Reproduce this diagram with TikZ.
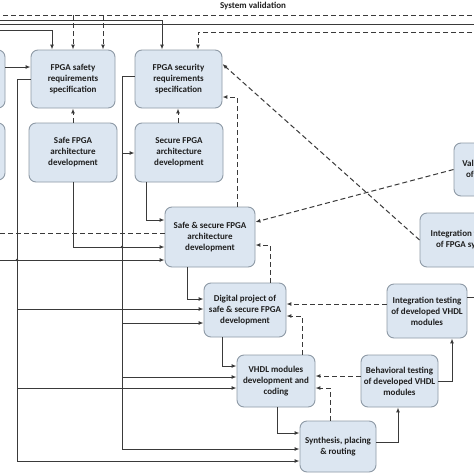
\documentclass[tikz,border=0pt]{standalone}
\usepackage{fontspec}
\setmainfont{Carlito}
\usetikzlibrary{arrows.meta}
\definecolor{boxfill}{HTML}{DCE6F1}
\definecolor{boxdraw}{HTML}{8E9AA6}
\definecolor{lncol}{HTML}{3A3A3A}
\definecolor{txt}{HTML}{1E1E1E}
\tikzset{
  box/.style={draw=boxdraw, fill=boxfill, line width=0.9pt, rounded corners=7pt,
    align=center, font=\fontsize{9}{11}\selectfont\bfseries, text=txt, inner sep=0pt},
  ln/.style={draw=lncol, line width=1pt},
  dln/.style={ln, dash pattern=on 5pt off 3pt},
  arr/.style={ln, -{Latex[length=5pt,width=4pt]}},
  darr/.style={dln, -{Latex[length=5pt,width=4pt]}},
  jdot/.style={fill=lncol, draw=none, circle, inner sep=0pt, minimum size=2.6pt},
  lbl/.style={font=\fontsize{9}{11}\selectfont\bfseries, text=txt, inner sep=0pt}
}
\begin{document}
\begin{tikzpicture}[x=1pt, y=-1pt]
\useasboundingbox (0,0) rectangle (474,474);
\clip (0,0) rectangle (474,474);
\fill[white] (0,0) rectangle (474,474);

% boxes
\node[box, minimum width=90pt, minimum height=58pt] (lbox1) at (-40,79) {};
\node[box, minimum width=90pt, minimum height=57pt] (lbox2) at (-40,151.5) {};
\node[box, minimum width=84pt, minimum height=58pt] (safreq) at (73,79) {FPGA safety\\requirements\\specification};
\node[box, minimum width=87pt, minimum height=58pt] (secreq) at (178.5,79) {FPGA security\\requirements\\specification};
\node[box, minimum width=88pt, minimum height=59pt] (safarch) at (73,152.5) {Safe FPGA\\architecture\\development};
\node[box, minimum width=88pt, minimum height=59pt] (secarch) at (179,152.5) {Secure FPGA\\architecture\\development};
\node[box, minimum width=90pt, minimum height=60pt] (ssarch) at (210,237) {Safe \& secure FPGA\\architecture\\development};
\node[box, minimum width=82pt, minimum height=54pt] (digital) at (245,310) {Digital project of\\safe \& secure FPGA\\development};
\node[box, minimum width=78pt, minimum height=52pt] (vhdl) at (276,381) {VHDL modules\\development and\\coding};
\node[box, minimum width=76pt, minimum height=51pt] (synth) at (338,446.5) {Synthesis, placing\\\& routing};
\node[box, minimum width=77pt, minimum height=52pt] (behav) at (399.5,381) {Behavioral testing\\of developed VHDL\\modules};
\node[box, minimum width=80pt, minimum height=54pt] (integ) at (427,311) {Integration testing\\of developed VHDL\\modules};
\node[box, minimum width=90pt, minimum height=54pt] (intsys) at (465,240) {Integration testing\\of FPGA system};
\node[box, minimum width=82pt, minimum height=53pt] (valid) at (495,169.5) {Validation testing\\of FPGA system};

% top bus lines
\node[lbl] (sysval) at (253,6) {System validation};
\coordinate (d15l) at (-5,15);
\coordinate (d15r) at (480,15);
\coordinate (s24l) at (-5,24);
\coordinate (s24r) at (480,24);
\coordinate (s20l) at (-5,20);
\coordinate (s30l) at (-5,30);
\coordinate (d32r) at (480,32);
\draw[dln] (d15l) -- (d15r);
\draw[ln] (s24l) -- (s24r);
\draw[arr] (s20l) -| (secreq.north -| 162,0);
\draw[arr] (s30l) -| (safreq.north -| 52,0);
\draw[darr] (d32r) -| (secreq.north -| 198,0);
\draw[darr] (73,15) -- (safreq.north -| 73,0);
\draw[darr] (103,15) -- (safreq.north -| 103,0);

% left inputs
\draw[arr] (lbox1.east |- 0,67) -- (safreq.west |- 0,67);
\coordinate (l260) at (-5,260);
\coordinate (l233) at (-5,233);
\draw[arr] (l260) -- (ssarch.west |- 0,260);
\draw[dln] (ssarch.west |- 0,233) -- (l233);

% x=17 bus
\draw[arr] (safreq.west) -- (17,79) -- (17,461) -- (synth.west |- 0,461);
\draw[arr] (17,309) -- (digital.west |- 0,309);
\draw[arr] (17,388) -- (vhdl.west |- 0,388);
\node[jdot] (j1) at (17,260) {};

% x=122 bus
\draw[arr] (secreq.west |- 0,76) -- (122,76) -- (122,449) -- (synth.west |- 0,449);
\draw[arr] (122,153) -- (secarch.west |- 0,153);
\draw[arr] (122,323) -- (digital.west |- 0,323);
\draw[arr] (122,377) -- (vhdl.west |- 0,377);
\node[jdot] (j2) at (122,247) {};

% architecture to safe & secure
\draw[arr] (safarch.south) |- (ssarch.west |- 0,247);
\draw[arr] (secarch.south -| 146,0) |- (ssarch.west |- 0,220);
\draw[darr] (safarch.north) -- (safreq.south);
\draw[darr] (secarch.north -| 178,0) -- (secreq.south -| 178,0);

% main flow
\draw[arr] (ssarch.south -| 187,0) |- (digital.west |- 0,299);
\draw[arr] (digital.south -| 222,0) |- (vhdl.west |- 0,366);
\draw[arr] (vhdl.south -| 277,0) |- (synth.west |- 0,433);
\draw[arr] (synth.east |- 0,442) -| (behav.south -| 398,0);
\draw[arr] (behav.east) -| (integ.south -| 452,0);
\coordinate (r297) at (480,297);
\draw[ln] (integ.east |- 0,297) -- (r297);

% dashed feedback
\draw[darr] (integ.west |- 0,304) -- (digital.east |- 0,304);
\draw[darr] (behav.west |- 0,376) -- (vhdl.east |- 0,376);
\draw[darr] (synth.north -| 330,0) |- (vhdl.east |- 0,388);
\draw[darr] (vhdl.north -| 302,0) |- (digital.east |- 0,316);
\draw[darr] (digital.north -| 270,0) |- (ssarch.east |- 0,245);
\draw[darr] (valid.west) -- (ssarch.east |- 0,222);
\draw[darr] (intsys.west) -- (secreq.east |- 0,64);
\draw[darr] (ssarch.north -| 237,0) |- (secreq.east |- 0,97);
\end{tikzpicture}
\end{document}
